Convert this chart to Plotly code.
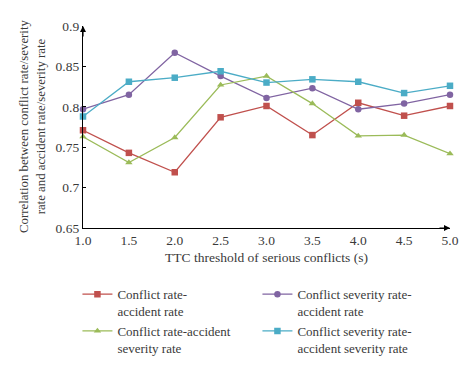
import plotly.graph_objects as go

ttc = [1.0, 1.5, 2.0, 2.5, 3.0, 3.5, 4.0, 4.5, 5.0]
x_ticks = ["1.0", "1.5", "2.0", "2.5", "3.0", "3.5", "4.0", "4.5", "5.0"]
y_ticks = [0.65, 0.7, 0.75, 0.8, 0.85, 0.9]
y_tick_text = ["0.65", "0.7", "0.75", "0.8", "0.85", "0.9"]

cr_ar = [0.771, 0.743, 0.719, 0.787, 0.801, 0.765, 0.805, 0.789, 0.801]
cr_asr = [0.763, 0.731, 0.762, 0.827, 0.838, 0.804, 0.764, 0.765, 0.742]
csr_ar = [0.797, 0.815, 0.867, 0.838, 0.811, 0.823, 0.797, 0.804, 0.815]
csr_asr = [0.788, 0.831, 0.836, 0.844, 0.830, 0.834, 0.831, 0.817, 0.826]

names = ["Conflict rate-<br>accident rate",
         "Conflict severity rate-<br>accident rate",
         "Conflict rate-accident<br>severity rate",
         "Conflict severity rate-<br>accident severity rate"]
series = [cr_ar, csr_ar, cr_asr, csr_asr]
colors = ["#c0504d", "#8064a2", "#9bbb59", "#4bacc6"]
symbols = ["square", "circle", "triangle-up", "square"]

fig = go.Figure()
for name, ys, c, s in zip(names, series, colors, symbols):
    fig.add_trace(go.Scatter(
        x=ttc, y=ys, name=name, mode="lines+markers",
        line=dict(color=c, width=1.3),
        marker=dict(symbol=s, size=6.5, color=c),
        cliponaxis=False,
    ))

font = "Liberation Serif, Times New Roman, serif"
# page body has an 8px margin, so the figure is sized to fit the window
fig.update_layout(
    width=466, height=364,
    margin=dict(l=75, r=24, t=18, b=144),
    paper_bgcolor="white", plot_bgcolor="white",
    font=dict(family=font, size=13, color="#3a3a3a"),
    showlegend=True,
    legend=dict(orientation="h", xref="container", x=0.149, xanchor="left",
                yref="container", y=0.255, yanchor="top",
                entrywidth=135, entrywidthmode="pixels", valign="top",
                font=dict(family=font, size=13, color="#3a3a3a"),
                tracegroupgap=0, itemwidth=30, bgcolor="rgba(0,0,0,0)"),
    xaxis=dict(range=[1.0, 5.0], tickvals=ttc, ticktext=x_ticks, automargin=False,
               showgrid=False, zeroline=False, showline=True, linecolor="black",
               linewidth=1.2, ticks="", tickfont=dict(size=13.5),
               title=dict(text="TTC threshold of serious conflicts (s)",
                          standoff=5, font=dict(size=13.5))),
    yaxis=dict(range=[0.65, 0.9], tickvals=y_ticks, ticktext=y_tick_text, automargin=False,
               showgrid=False, zeroline=False, showline=True, linecolor="black",
               linewidth=1.2, ticks="inside", ticklen=3, tickcolor="black",
               tickfont=dict(size=13.5)),
)

fig.add_annotation(text="Correlation between conflict rate/severity<br>rate and accident rate/severity rate",
                   xref="paper", yref="paper", x=0, y=0.5, xanchor="center", yanchor="middle",
                   xshift=-51, textangle=-90, showarrow=False, font=dict(size=12.8))

# axis arrowheads
fig.add_annotation(x=0, y=1.0, xref="paper", yref="paper", ax=0, ay=12,
                   showarrow=True, arrowhead=2, arrowsize=1, arrowwidth=1.2, arrowcolor="black", text="")
fig.add_annotation(x=1.0, y=0, xref="paper", yref="paper", ax=-12, ay=0, showarrow=True, arrowhead=2,
                   arrowsize=1, arrowwidth=1.2, arrowcolor="black", text="")

fig.write_html("out.html")
